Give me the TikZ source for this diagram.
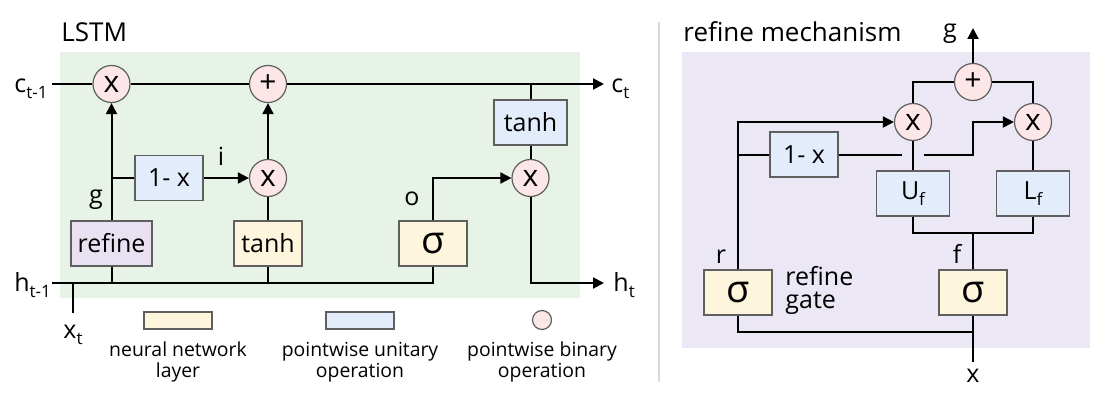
\documentclass[tikz,border=0pt]{standalone}
\usepackage{fontspec}
\setmainfont{Open Sans}
\usepackage{tikz}
\usetikzlibrary{arrows.meta,positioning,calc}
\definecolor{lstmgreen}{RGB}{230,243,230}
\definecolor{refinepurple}{RGB}{236,231,244}
\definecolor{layeryellow}{RGB}{253,246,220}
\definecolor{unitblue}{RGB}{227,236,250}
\definecolor{binpink}{RGB}{252,230,232}
\definecolor{refinelilac}{RGB}{231,225,242}
\definecolor{edgegray}{RGB}{95,95,95}
\definecolor{sepgray}{RGB}{218,218,218}
\newcommand{\sublbl}[2]{#1\raisebox{-0.5ex}{\fontsize{8.5}{8.5}\selectfont #2}}
\newcommand{\sig}{{\fontsize{19}{19}\selectfont σ}}

\begin{document}
\begin{tikzpicture}[
  x=0.5pt, y=-0.5pt,
  nnbox/.style={rectangle, draw=edgegray, fill=layeryellow, line width=0.6pt, minimum width=34pt, minimum height=22.5pt, inner sep=0pt, font=\fontsize{12.5}{13}\selectfont},
  unibox/.style={nnbox, fill=unitblue},
  refbox/.style={nnbox, fill=refinelilac, minimum width=40.5pt},
  opcirc/.style={circle, draw=edgegray, fill=binpink, line width=0.6pt, minimum size=18.5pt, inner sep=0pt, font=\fontsize{15}{15}\selectfont},
  wire/.style={line width=1pt, black},
  flowarrow/.style={wire, -{Triangle[length=5.5pt,width=5.5pt]}},
  lbl/.style={font=\fontsize{12.5}{13}\selectfont, inner sep=0pt},
  ttl/.style={font=\fontsize{13}{14}\selectfont, inner sep=0pt},
  legend/.style={font=\fontsize{9.7}{10.5}\selectfont, align=center, inner sep=0pt}
]
\useasboundingbox (0,0) rectangle (1106,401);

% LSTM panel
\fill[lstmgreen] (60,52) rectangle (580,298);
\node[ttl, anchor=base west] (lstmtitle) at (61,42) {LSTM};

\node[opcirc] (fx) at (111.5,84) {x};
\node[opcirc] (ip) at (268,84) {+};
\node[opcirc] (ix) at (268,178) {x};
\node[opcirc] (ox) at (530.5,178) {x};
\node[refbox] (refine) at (111.5,243.5) {refine};
\node[unibox] (inv) at (169,178) {1- x};
\node[nnbox] (gtanh) at (268,243.5) {tanh};
\node[nnbox] (osig) at (433,243.5) {\sig};
\node[unibox, minimum width=36.5pt] (ctanh) at (530.5,122.5) {tanh};

\coordinate (cin) at (52,84);
\coordinate (cout) at (604,84);
\coordinate (hin) at (52,283);
\coordinate (hout) at (604,283);
\coordinate (xin) at (73,313);

\node[lbl, anchor=base west] (cprev) at (14,92) {\sublbl{c}{t-1}};
\node[lbl, anchor=base west] (cnext) at (611,92) {\sublbl{c}{t}};
\node[lbl, anchor=base west] (hprev) at (14,291) {\sublbl{h}{t-1}};
\node[lbl, anchor=base west] (hnext) at (613,291) {\sublbl{h}{t}};
\node[lbl, anchor=base west] (xcur) at (63,338) {\sublbl{x}{t}};
\node[lbl, anchor=base] (glbl) at (96,203) {g};
\node[lbl, anchor=base] (ilbl) at (221,165) {i};
\node[lbl, anchor=base] (olbl) at (412,205) {o};

\draw[wire] (cin) -- (fx);
\draw[wire] (fx) -- (ip);
\draw[flowarrow] (ip) -- (cout);
\draw[wire] (ctanh.north) -- (ctanh.north |- ip);
\draw[wire] (ctanh) -- (ox);
\draw[flowarrow] (ox.south) |- (hout);
\draw[wire] (hin) -- (osig.south |- hin) -- (osig.south);
\draw[wire] (refine.south) -- (refine.south |- hin);
\draw[wire] (gtanh.south) -- (gtanh.south |- hin);
\draw[wire] (xin) -- (xin |- hin);
\draw[flowarrow] (refine.north) -- (fx.south);
\draw[wire] (inv.west) -- (inv.west -| refine.north);
\draw[flowarrow] (inv.east) -- (ix.west);
\draw[wire] (gtanh) -- (ix);
\draw[flowarrow] (ix) -- (ip);
\draw[flowarrow] (osig.north) |- (ox.west);

% legend
\node[nnbox, minimum height=8.5pt] (lgnn) at (178,320.5) {};
\node[unibox, minimum height=8.5pt] (lguni) at (360,320.5) {};
\node[opcirc, minimum size=9.5pt] (lgbin) at (542,320) {};
\node[legend] (lgnntxt) at (178,362) {neural network\\layer};
\node[legend] (lgunitxt) at (360,362) {pointwise unitary\\operation};
\node[legend] (lgbintxt) at (542,362) {pointwise binary\\operation};

\draw[sepgray, line width=1pt] (659,22) -- (659,382);

% refine mechanism panel
\fill[refinepurple] (682,52) rectangle (1090,348);
\node[ttl, anchor=base west] (reftitle) at (683,42) {refine mechanism};

\node[opcirc] (gp) at (973,82) {+};
\node[opcirc] (ux) at (913,122) {x};
\node[opcirc] (lx) at (1033,122) {x};
\node[unibox] (rinv) at (804,154.5) {1- x};
\node[unibox, minimum width=36.5pt] (uf) at (913,193.5) {\sublbl{U}{f}};
\node[unibox, minimum width=36.5pt] (lf) at (1033,193.5) {\sublbl{L}{f}};
\node[nnbox] (rsig) at (738,292.5) {\sig};
\node[nnbox] (fsig) at (973,292.5) {\sig};

\coordinate (gout) at (973,28);
\coordinate (xbot) at (973,362);
\coordinate (fjoin) at (973,233);
\coordinate (xjoin) at (973,332);
\coordinate (gapl) at (902,154.5);
\coordinate (gapr) at (924,154.5);

\node[lbl, anchor=base] (gtop) at (950,38) {g};
\node[lbl, anchor=base] (rlbl) at (721,263) {r};
\node[lbl, anchor=base] (flbl) at (957,263) {f};
\node[lbl, anchor=north west, align=left, font=\fontsize{12.5}{11.5}\selectfont] (rgate) at (785,266) {refine\\gate};
\node[lbl, anchor=base] (xlbl) at (973,382) {x};

\draw[flowarrow] (gp) -- (gout);
\draw[wire] (gp.west) -| (ux.north);
\draw[wire] (gp.east) -| (lx.north);
\draw[wire] (uf) -- (ux);
\draw[wire] (lf) -- (lx);
\draw[wire] (uf.south) |- (fjoin) -| (lf.south);
\draw[wire] (fjoin) -- (fsig.north);
\draw[flowarrow] (rsig.north) |- (ux.west);
\draw[wire] (rinv.west) -- (rinv.west -| rsig.north);
\draw[wire] (rinv.east) -- (gapl);
\draw[flowarrow] (gapr) -- (gapr -| gp) |- (lx.west);
\draw[wire] (rsig.south) |- (xjoin);
\draw[wire] (xbot) -- (fsig.south);

\end{tikzpicture}
\end{document}
